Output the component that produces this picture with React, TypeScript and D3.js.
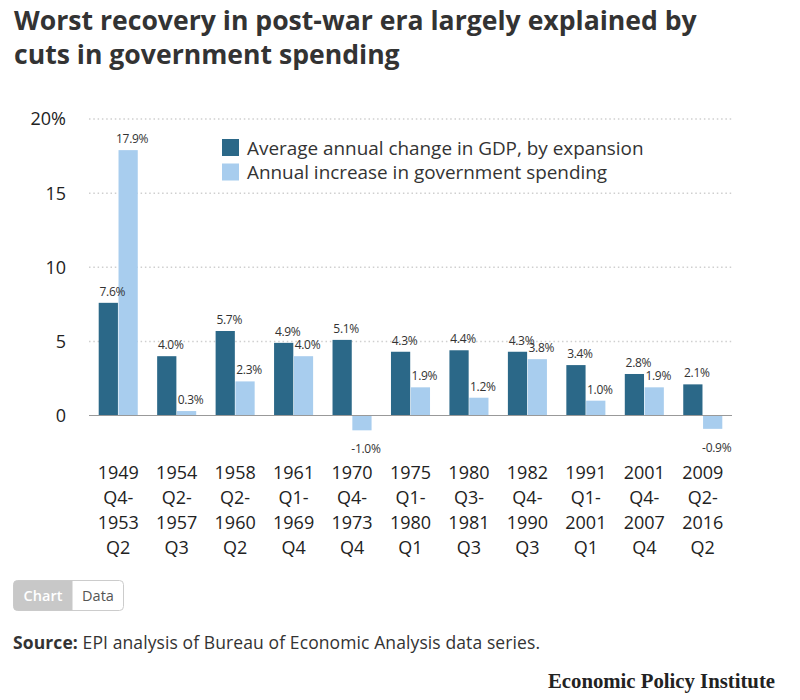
import React from "react";
import * as d3 from "d3";

const categories = [
  ["1949", "Q4-", "1953", "Q2"],
  ["1954", "Q2-", "1957", "Q3"],
  ["1958", "Q2-", "1960", "Q2"],
  ["1961", "Q1-", "1969", "Q4"],
  ["1970", "Q4-", "1973", "Q4"],
  ["1975", "Q1-", "1980", "Q1"],
  ["1980", "Q3-", "1981", "Q3"],
  ["1982", "Q4-", "1990", "Q3"],
  ["1991", "Q1-", "2001", "Q1"],
  ["2001", "Q4-", "2007", "Q4"],
  ["2009", "Q2-", "2016", "Q2"],
];
const gdp = [7.6, 4.0, 5.7, 4.9, 5.1, 4.3, 4.4, 4.3, 3.4, 2.8, 2.1];
const govt = [17.9, 0.3, 2.3, 4.0, -1.0, 1.9, 1.2, 3.8, 1.0, 1.9, -0.9];
const seriesNames = [
  "Average annual change in GDP, by expansion",
  "Annual increase in government spending",
];
const seriesColors = ["#2b6888", "#a8cdee"];
const yTicks = [0, 5, 10, 15, 20];
const yTickLabels = ["0", "5", "10", "15", "20%"];

const FONT = "'Open Sans', Lato, sans-serif";

export default function App() {
  const W = 800, H = 700;
  const keys = categories.map((c) => c.join(" "));
  const x0 = d3.scaleBand<string>().domain(keys).range([89, 732]).padding(0);
  const x1 = d3
    .scaleBand<string>()
    .domain(["gdp", "govt"])
    .range([x0.bandwidth() * 0.166, x0.bandwidth() * 0.834])
    .paddingInner(0.03);
  const y = d3.scaleLinear().domain([0, 20]).range([415.5, 119]);
  const series = [
    { key: "gdp", values: gdp, color: seriesColors[0] },
    { key: "govt", values: govt, color: seriesColors[1] },
  ];

  return (
    <svg
      width={W}
      height={H}
      style={{ position: "absolute", left: 0, top: 0, background: "#fff" }}
      fontFamily={FONT}
    >
      <rect width={W} height={H} fill="#fff" />
      {/* Title */}
      <text x={14} y={30} fontSize={26.6} fontWeight={700} fill="#333">
        Worst recovery in post-war era largely explained by
      </text>
      <text x={14} y={64} fontSize={26.6} fontWeight={700} fill="#333">
        cuts in government spending
      </text>

      {/* Grid */}
      {yTicks.map((t, i) => (
        <g key={t}>
          {t !== 0 && (
            <line
              x1={89}
              x2={732}
              y1={y(t)}
              y2={y(t)}
              stroke="#cfcfcf"
              strokeWidth={1.5}
              strokeDasharray="1.5,2.8"
            />
          )}
          <text
            x={66}
            y={y(t)}
            dy="0.36em"
            textAnchor="end"
            fontSize={18}
            fill="#222"
          >
            {yTickLabels[i]}
          </text>
        </g>
      ))}

      {/* Bars */}
      {series.map((s) => (
        <g key={s.key}>
          {s.values.map((v, i) => {
            const bx = (x0(keys[i]) as number) + (x1(s.key) as number);
            const bw = x1.bandwidth();
            const top = Math.min(y(v), y(0));
            const h = Math.abs(y(v) - y(0));
            return (
              <rect key={i} x={bx} y={top} width={bw} height={h} fill={s.color} />
            );
          })}
        </g>
      ))}

      {/* Zero line */}
      <line x1={89} x2={732} y1={y(0)} y2={y(0)} stroke="#999" strokeWidth={1} />

      {/* Value labels */}
      {series.map((s) => (
        <g key={s.key + "l"}>
          {s.values.map((v, i) => {
            const cx =
              (x0(keys[i]) as number) + (x1(s.key) as number) + x1.bandwidth() / 2 + 4;
            const ly = v >= 0 ? y(v) - 7 : y(v) + 23;
            return (
              <text
                key={i}
                x={cx}
                y={ly}
                textAnchor="middle"
                fontSize={12}
                letterSpacing={-0.3}
                fill="#333"
              >
                {v.toFixed(1) + "%"}
              </text>
            );
          })}
        </g>
      ))}

      {/* X labels */}
      {categories.map((c, i) => {
        const cx = (x0(keys[i]) as number) + x0.bandwidth() / 2;
        return (
          <text key={i} x={cx} textAnchor="middle" fontSize={18} fill="#222">
            {c.map((line, j) => (
              <tspan key={j} x={cx} y={479 + j * 25}>
                {line}
              </tspan>
            ))}
          </text>
        );
      })}

      {/* Legend */}
      {seriesNames.map((n, i) => (
        <g key={n}>
          <rect x={222} y={139 + i * 24.5} width={17} height={17} fill={seriesColors[i]} />
          <text x={247} y={154.5 + i * 24.5} fontSize={18.9} fill="#333">
            {n}
          </text>
        </g>
      ))}

      {/* Chart / Data toggle */}
      <rect x={13.5} y={580.5} width={110} height={30} rx={4} fill="#fff" stroke="#ccc" />
      <path d="M17.5,580.5 H72.5 V610.5 H17.5 A4,4 0 0 1 13.5,606.5 V584.5 A4,4 0 0 1 17.5,580.5 Z" fill="#c8c8c8" />
      <text x={43} y={601} textAnchor="middle" fontSize={14.5} fontWeight={600} fill="#fff">
        Chart
      </text>
      <text x={98} y={601} textAnchor="middle" fontSize={14.5} fill="#555">
        Data
      </text>

      {/* Source */}
      <text x={13} y={649} fontSize={17.5} fill="#333" textLength={527} lengthAdjust="spacing">
        <tspan fontWeight={700}>Source:</tspan> EPI analysis of Bureau of Economic Analysis data series.
      </text>

      {/* Logo */}
      <text
        x={775}
        y={688}
        textAnchor="end"
        fontSize={20}
        fontWeight={700}
        fontFamily="'Liberation Serif', 'DejaVu Serif', serif"
        fill="#222"
        textLength={227}
        lengthAdjust="spacingAndGlyphs"
      >
        Economic Policy Institute
      </text>
    </svg>
  );
}
